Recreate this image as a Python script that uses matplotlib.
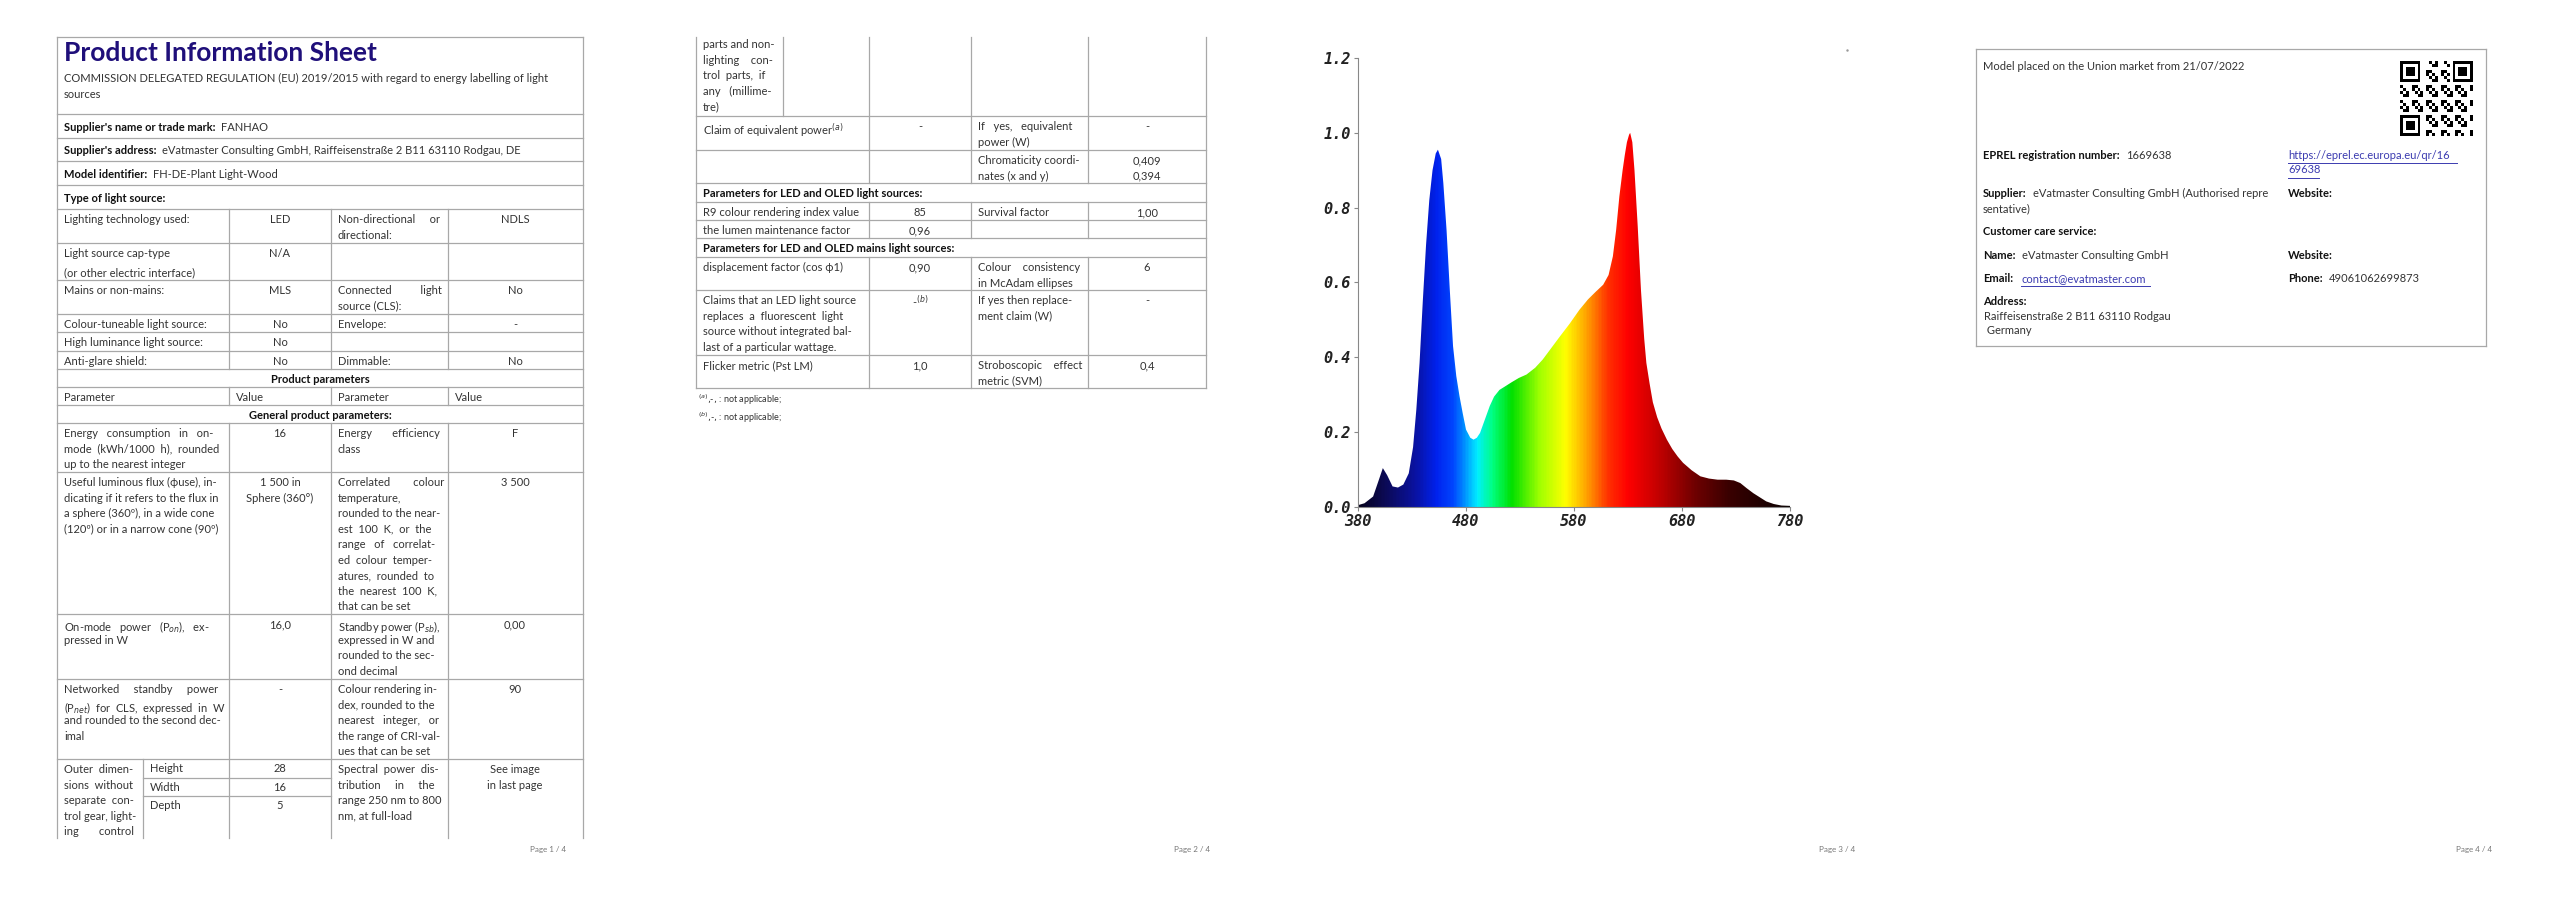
import numpy as np
import matplotlib
matplotlib.use("Agg")
import matplotlib.pyplot as plt
from matplotlib.colors import LinearSegmentedColormap

plt.rcParams["font.family"] = ["Lato", "DejaVu Sans"]

## spectrum values read from page 3
wavelength = [380, 386, 394, 399, 403, 407, 412, 417, 422, 427, 431, 434, 437, 440, 443, 446, 449,
              452, 454, 457, 459, 462, 465, 468, 471, 474, 477, 480, 484, 487, 490, 493, 497, 502,
              506, 511, 516, 522, 529, 536, 544, 551, 559, 567, 576, 585, 593, 600, 607, 612, 616,
              619, 622, 625, 627, 629, 631, 632, 634, 636, 639, 642, 645, 647, 650, 653, 657, 661,
              666, 671, 676, 681, 689, 697, 705, 713, 721, 728, 734, 740, 746, 752, 758, 765, 772, 780]
intensity = [0.005, 0.01, 0.028, 0.07, 0.104, 0.085, 0.055, 0.052, 0.06, 0.09, 0.16, 0.26, 0.385,
             0.55, 0.70, 0.82, 0.90, 0.945, 0.955, 0.93, 0.866, 0.74, 0.58, 0.43, 0.35, 0.296, 0.25,
             0.207, 0.185, 0.18, 0.185, 0.198, 0.23, 0.27, 0.295, 0.313, 0.322, 0.333, 0.345, 0.354,
             0.372, 0.394, 0.425, 0.456, 0.49, 0.527, 0.555, 0.575, 0.594, 0.62, 0.67, 0.74, 0.83,
             0.90, 0.94, 0.975, 0.995, 1.0, 0.975, 0.90, 0.75, 0.58, 0.45, 0.385, 0.33, 0.28, 0.24,
             0.21, 0.18, 0.155, 0.135, 0.118, 0.098, 0.082, 0.076, 0.073, 0.073, 0.071, 0.064, 0.05,
             0.037, 0.026, 0.015, 0.008, 0.004, 0.003]
x_ticks = [380, 480, 580, 680, 780]
y_ticks = [0.0, 0.2, 0.4, 0.6, 0.8, 1.0, 1.2]

GRID = "#a8a8a8"
TXT = "#333333"
FS = 8.0
LH = 15.5

fig = plt.figure(figsize=(25.6, 9.05), dpi=100)
page = fig.add_axes([0, 0, 1, 1])
page.set_xlim(0, 2560)
page.set_ylim(905, 0)
page.axis("off")


def hline(y, x0, x1):
    page.plot([x0, x1], [y, y], color=GRID, lw=0.9)


def vline(x, y0, y1):
    page.plot([x, x], [y0, y1], color=GRID, lw=0.9)


def cell(x, y, lines, ha="left", bold=False, size=FS, color=TXT, lh=LH):
    if isinstance(lines, str):
        lines = [lines]
    for i, s in enumerate(lines):
        page.text(x, y + 5 + i * lh, s, ha=ha, va="top", fontsize=size, color=color,
                  fontweight="bold" if bold else "normal")


def label(x, y, key, value):
    t = page.text(x, y, key, va="top", fontsize=FS, color="#111111", fontweight="bold")
    bb = t.get_window_extent(renderer=fig.canvas.get_renderer())
    page.text(x + bb.width + 6, y, value, va="top", fontsize=FS, color=TXT)


### Page 1
L, R = 57, 583
c1, c2, c3, cs = 229, 331, 448, 143
m1, m3 = 280, 515
vline(L, 37, 838)
vline(R, 37, 838)
hline(37, L, R)
for y in [114, 138, 161, 185, 209, 243, 280, 314, 332, 351, 369, 387, 405, 423, 472, 614, 679, 759]:
    hline(y, L, R)
for x in [c1, c2, c3]:
    vline(x, 209, 369)
    vline(x, 387, 405)
    vline(x, 423, 838)
vline(cs, 759, 838)
hline(778, cs, c2)
hline(796, cs, c2)

page.text(64, 41, "Product Information Sheet", va="top", fontsize=19, color="#1f0f7a",
          fontweight="bold")
cell(64, 68, ["COMMISSION DELEGATED REGULATION (EU) 2019/2015 with regard to energy labelling of light",
              "sources"])
label(64, 122, "Supplier's name or trade mark:", "FANHAO")
label(64, 145, "Supplier's address:", "eVatmaster Consulting GmbH, Raiffeisenstraße 2 B11 63110 Rodgau, DE")
label(64, 169, "Model identifier:", "FH-DE-Plant Light-Wood")
cell(64, 188, "Type of light source:", bold=True, color="#111111")

rows1 = [
    (209, "Lighting technology used:", "LED", ["Non-directional     or", "directional:"], "NDLS"),
    (280, "Mains or non-mains:", "MLS", ["Connected          light", "source (CLS):"], "No"),
    (314, "Colour-tuneable light source:", "No", "Envelope:", "-"),
    (332, "High luminance light source:", "No", "", ""),
    (351, "Anti-glare shield:", "No", "Dimmable:", "No"),
    (387, "Parameter", "", "Parameter", ""),
    (423, ["Energy   consumption   in   on-", "mode  (kWh/1000  h),  rounded", "up to the nearest integer"],
     "16", ["Energy       efficiency", "class"], "F"),
    (472, ["Useful luminous flux (ϕuse), in-", "dicating if it refers to the flux in",
           "a sphere (360º), in a wide cone", "(120º) or in a narrow cone (90º)"],
     ["1 500 in", "Sphere (360°)"],
     ["Correlated        colour", "temperature,", "rounded to the near-", "est  100  K,  or  the",
      "range   of   correlat-", "ed  colour  temper-", "atures,  rounded  to", "the  nearest  100  K,",
      "that can be set"], "3 500"),
    (614, ["On-mode   power   (P$_{on}$),   ex-", "pressed in W"], "16,0",
     ["Standby power (P$_{sb}$),", "expressed in W and", "rounded to the sec-", "ond decimal"], "0,00"),
    (679, ["Networked     standby     power", "(P$_{net}$)  for  CLS,  expressed  in  W",
           "and rounded to the second dec-", "imal"], "-",
     ["Colour rendering in-", "dex, rounded to the", "nearest   integer,   or", "the range of CRI-val-",
      "ues that can be set"], "90"),
]
for y, a, b, c, d in rows1:
    cell(64, y, a)
    if y == 387:
        cell(c1 + 7, y, "Value")
        cell(c3 + 7, y, "Value")
    else:
        cell(m1, y, b, ha="center")
        cell(m3, y, d, ha="center")
    cell(c2 + 7, y, c)
cell(64, 243, ["Light source cap-type", "(or other electric interface)"], lh=19.5)
cell(m1, 243, "N/A", ha="center")
cell((L + R) / 2, 369, "Product parameters", ha="center", bold=True, color="#111111")
cell((L + R) / 2, 405, "General product parameters:", ha="center", bold=True, color="#111111")
cell(64, 759, ["Outer  dimen-", "sions  without", "separate  con-", "trol gear, light-", "ing       control"])
for y, k, v in [(759, "Height", "28"), (778, "Width", "16"), (796, "Depth", "5")]:
    cell(cs + 7, y - 1, k)
    cell(m1, y - 1, v, ha="center")
cell(c2 + 7, 759, ["Spectral  power  dis-", "tribution     in     the", "range 250 nm to 800",
                   "nm, at full-load"])
cell(m3, 759, ["See image", "in last page"], ha="center")

### Page 2
L2, R2 = 696, 1206
d1, d2, d3, ds = 869, 971, 1088, 783
n1, n3 = 920, 1147
vline(L2, 37, 388)
vline(R2, 37, 388)
vline(ds, 37, 116)
for x in [d1, d2, d3]:
    vline(x, 37, 183)
    vline(x, 202, 238)
    vline(x, 257, 388)
for y in [116, 150, 183, 202, 220, 238, 257, 290, 355, 388]:
    hline(y, L2, R2)
cell(703, 34, ["parts and non-", "lighting    con-", "trol  parts,  if", "any   (millime-", "tre)"])
rows2 = [
    (116, "Claim of equivalent power$^{(a)}$", "-", ["If   yes,   equivalent", "power (W)"], "-"),
    (150, "", "", ["Chromaticity coordi-", "nates (x and y)"], ["0,409", "0,394"]),
    (202, "R9 colour rendering index value", "85", "Survival factor", "1,00"),
    (220, "the lumen maintenance factor", "0,96", "", ""),
    (257, "displacement factor (cos ϕ1)", "0,90", ["Colour    consistency", "in McAdam ellipses"], "6"),
    (290, ["Claims that an LED light source", "replaces  a  fluorescent  light",
           "source without integrated bal-", "last of a particular wattage."], "-$^{(b)}$",
     ["If yes then replace-", "ment claim (W)"], "-"),
    (355, "Flicker metric (Pst LM)", "1,0", ["Stroboscopic    effect", "metric (SVM)"], "0,4"),
]
for y, a, b, c, d in rows2:
    cell(703, y, a)
    cell(n1, y, b, ha="center")
    cell(d2 + 7, y, c)
    cell(n3, y, d, ha="center")
cell(703, 183, "Parameters for LED and OLED light sources:", bold=True, color="#111111")
cell(703, 238, "Parameters for LED and OLED mains light sources:", bold=True, color="#111111")
cell(698, 388, ["$^{(a)}$‚-‚ : not applicable;"], size=6.5)
cell(698, 406, ["$^{(b)}$‚-‚ : not applicable;"], size=6.5)

### Page 4
vline(1976, 49, 346)
vline(2486, 49, 346)
hline(49, 1976, 2486)
hline(346, 1976, 2486)
page.text(1983, 61, "Model placed on the Union market from 21/07/2022", va="top", fontsize=FS, color=TXT)
label(1983, 150, "EPREL registration number:", "1669638")
page.text(2288, 150, "https://eprel.ec.europa.eu/qr/16\n69638", va="top", fontsize=FS,
          color="#3b3bb0", linespacing=1.35)
page.plot([2288, 2457], [163, 163], color="#3b3bb0", lw=0.7)
page.plot([2288, 2319], [178, 178], color="#3b3bb0", lw=0.7)
label(1983, 188, "Supplier:", "eVatmaster Consulting GmbH (Authorised repre")
page.text(1983, 203, "sentative)", va="top", fontsize=FS, color=TXT)
page.text(2288, 188, "Website:", va="top", fontsize=FS, color="#111111", fontweight="bold")
page.text(1983, 226, "Customer care service:", va="top", fontsize=FS, color="#111111", fontweight="bold")
label(1983, 250, "Name:", "eVatmaster Consulting GmbH")
page.text(2288, 250, "Website:", va="top", fontsize=FS, color="#111111", fontweight="bold")
label(1983, 273, "Email:", "")
page.text(2021, 273, "contact@evatmaster.com", va="top", fontsize=FS, color="#3b3bb0")
page.plot([2021, 2150], [286, 286], color="#3b3bb0", lw=0.7)
label(2288, 273, "Phone:", "49061062699873")
page.text(1983, 296, "Address:", va="top", fontsize=FS, color="#111111", fontweight="bold")
page.text(1984, 311, "Raiffeisenstraße 2 B11 63110 Rodgau\n Germany", va="top", fontsize=FS,
          color=TXT, linespacing=1.35)

# QR-like block
n = 25
ii, jj = np.mgrid[0:n, 0:n]
qr = (((ii * 7 + jj * 3 + ii * jj) % 5) < 2).astype(float)
for r0, c0 in [(0, 0), (0, n - 7), (n - 7, 0)]:
    blk = np.zeros((7, 7))
    blk[0, :] = blk[-1, :] = blk[:, 0] = blk[:, -1] = 1
    blk[2:5, 2:5] = 1
    qr[max(r0 - 1, 0):r0 + 8, max(c0 - 1, 0):c0 + 8] = 0
    qr[r0:r0 + 7, c0:c0 + 7] = blk
page.imshow(qr, cmap="Greys", extent=[2400, 2473, 136, 61], interpolation="nearest", zorder=3)
page.set_xlim(0, 2560)
page.set_ylim(905, 0)
page.set_aspect("auto")

# page footers
for x, s in [(566, "Page 1 / 4"), (1210, "Page 2 / 4"), (1855, "Page 3 / 4"), (2492, "Page 4 / 4")]:
    page.text(x, 849, s, ha="right", va="center", fontsize=5.8, color="#777777")
page.plot([1847], [50], marker=".", color="#999999", ms=1.5)

### Page 3: spectrum
spec = LinearSegmentedColormap.from_list("spec", [
    (0.0, "#05021c"), (0.06, "#0c0a55"), (0.13, "#0a12a0"), (0.18, "#0022ee"),
    (0.22, "#0048ff"), (0.265, "#00ccff"), (0.275, "#00f0ff"), (0.31, "#00ff80"),
    (0.355, "#00e000"), (0.42, "#a0ff00"), (0.48, "#ffff00"), (0.53, "#ffa000"),
    (0.58, "#ff3000"), (0.625, "#ff0000"), (0.70, "#c00000"), (0.78, "#700000"),
    (0.86, "#3a0000"), (1.0, "#0a0000")])
ax = fig.add_axes([1358 / 2560, (905 - 507) / 905, 432 / 2560, 449 / 905])
poly = ax.fill_between(wavelength, 0, intensity, color="none", lw=0)
grad = np.linspace(0, 1, 400).reshape(1, -1)
im = ax.imshow(grad, cmap=spec, extent=[380, 780, 0, 1.2], aspect="auto", origin="lower")
im.set_clip_path(poly.get_paths()[0], transform=ax.transData)
ax.set_xlim(380, 780)
ax.set_ylim(0, 1.2)
ax.set_xticks(x_ticks)
ax.set_yticks(y_ticks)
ax.set_xticklabels([str(v) for v in x_ticks])
ax.set_yticklabels([f"{v:.1f}" for v in y_ticks])
for s in ["top", "right"]:
    ax.spines[s].set_visible(False)
for s in ["left", "bottom"]:
    ax.spines[s].set_color("#888888")
    ax.spines[s].set_linewidth(0.8)
ax.tick_params(length=3, color="#888888", labelsize=11, pad=2)
for t in ax.get_xticklabels() + ax.get_yticklabels():
    t.set_fontfamily("DejaVu Sans Mono")
    t.set_fontstyle("italic")
    t.set_fontweight("bold")
    t.set_color("#222222")

fig.savefig("out.png", dpi=100, facecolor="white")
